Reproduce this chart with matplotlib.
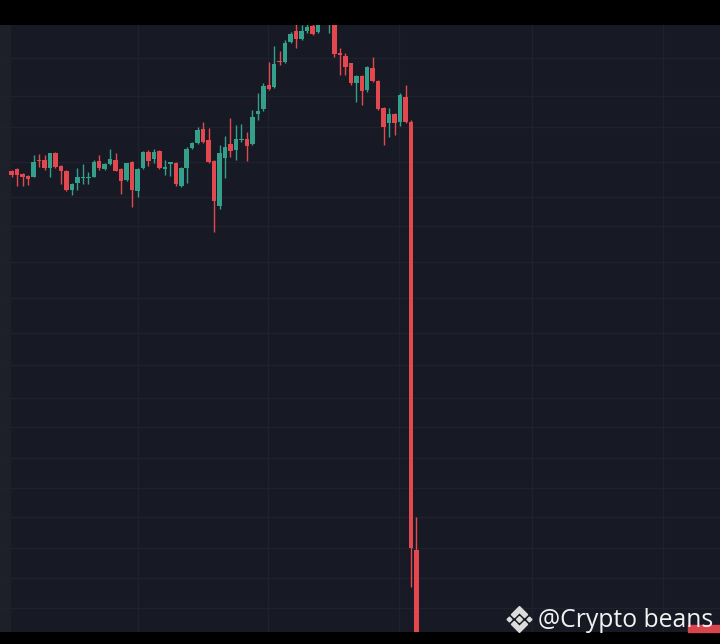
import numpy as np
import matplotlib.pyplot as plt
from matplotlib.patches import Polygon, Rectangle

# OHLC (arbitrary price units, bottom of chart = 0)
opens = [461, 463, 458, 456, 455, 472, 472, 464, 479, 466, 461, 442, 449, 454, 454,
         455, 471, 463, 468, 472, 463, 452, 470, 441, 464, 480, 473, 481, 463, 468.5,
         469, 446, 464, 484, 489, 503, 492, 471, 426, 474, 488, 482, 492, 493, 488,
         518, 523, 547, 545, 571, 570, 590, 601, 593, 601, 606, 600, 612, 620, 620,
         579, 576, 569, 549, 556, 542, 564, 551, 524, 509, 518, 510, 535, 510, 82]
highs = [462, 464, 459, 457, 477, 478, 477, 479, 480, 467, 462, 449, 464, 468, 460,
         472, 477, 469, 483, 479, 464, 469, 471, 464, 481, 482, 483, 482, 472, 470,
         470, 465, 485, 490, 505, 510, 504, 472, 487, 496, 514, 507, 508, 500, 522,
         539, 549, 570, 586, 581, 592, 600, 612, 607, 608, 610, 615, 624, 628, 624,
         584, 579, 569, 557, 557, 566, 575, 552, 525, 524, 519, 539, 547, 512, 115]
lows = [455, 446, 446, 447, 455, 465, 462, 455, 464, 448, 441, 437, 442, 448, 448,
        455, 462, 462, 467, 461, 438, 451, 425, 435, 463, 466, 469, 463, 457, 456,
        446, 445, 449, 483, 488, 489, 469, 400, 423, 454, 475, 472, 490, 471, 487,
        512, 521, 542, 544, 567, 569, 589, 584, 592, 599, 597, 599, 609, 599, 575,
        557, 557, 547, 530, 527, 540, 550, 522, 487, 495, 497, 506, 509, 45, -60]
closes = [457, 457, 455, 453, 470, 471, 464, 479, 465, 461, 442, 448, 455, 455, 455.5,
          470, 464, 468, 473, 461, 451, 469, 442, 463, 480, 471, 480, 464, 465, 469.5,
          448, 464, 483, 489, 502, 490, 470, 431, 479, 485, 481, 493, 493, 486, 515,
          521, 546, 543, 568, 570, 589, 598, 593, 601, 605, 598, 612, 620, 623, 578,
          577, 565, 549, 556, 541, 565, 551, 523, 505, 518, 509, 537, 510, 84, -40]

# grid rows as seen in the picture (pixel rows from top)
grid_rows = [58, 96, 127, 162, 197, 226, 262, 298, 333, 365, 398, 427, 458, 488, 517, 548, 578, 608]
grid_cols = [23.1, 46.9, 70.8, 95.1, 119.1]

bg = '#171a24'
green = '#34a08c'
red = '#e4484f'

fig = plt.figure(figsize=(7.2, 6.44), dpi=100, facecolor='black')
ax = fig.add_axes([0, 12 / 644, 1, 607 / 644])
ax.set_facecolor(bg)
ax.set_xlim(-2.14, 129.5)
ax.set_ylim(0, 607)
ax.set_xticks([])
ax.set_yticks([])
for s in ax.spines.values():
    s.set_visible(False)

# lighter strip on the left edge
ax.axvspan(-2.14, -0.3, color='#1d2029', zorder=0)

for r in grid_rows:
    ax.axhline(632 - r, color='#1e222c', lw=1, zorder=1)
for c in grid_cols:
    ax.axvline(c, color='#1e222c', lw=1, zorder=1)

o = np.array(opens, float)
h = np.array(highs, float)
l = np.array(lows, float)
c = np.array(closes, float)
x = np.arange(len(o))
cols = np.where(c >= o, green, red)

ax.vlines(x, l, h, colors=cols, lw=1, zorder=2)
body_lo = np.minimum(o, c)
body_h = np.maximum(np.abs(c - o), 1.4)
ax.bar(x, body_h, bottom=body_lo, width=0.82, color=cols, lw=0, zorder=3)

# price tag at bottom right
fig.patches.append(Rectangle((688 / 720, 12 / 644), 32 / 720, 7 / 644,
                             transform=fig.transFigure, color='#d9454c', zorder=5))

# watermark
fig.text(538 / 720, (644 - 627) / 644, '@Crypto beans', color='#f2f2f2',
         fontsize=17.8, family=['Open Sans', 'DejaVu Sans'], va='baseline', ha='left', zorder=10)

lax = fig.add_axes([506 / 720, 11 / 644, 27 / 720, 27 / 644])
lax.set_xlim(0, 1)
lax.set_ylim(0, 1)
lax.axis('off')
lc = '#dcdcdc'
def diamond(cx, cy, r):
    return Polygon([(cx, cy + r), (cx + r, cy), (cx, cy - r), (cx - r, cy)], color=lc)
lax.add_patch(diamond(0.5, 0.5, 0.11))
lax.add_patch(diamond(0.13, 0.5, 0.09))
lax.add_patch(diamond(0.87, 0.5, 0.09))
lax.add_patch(Polygon([(0.5, 0.98), (0.8, 0.68), (0.69, 0.57), (0.5, 0.76), (0.31, 0.57), (0.2, 0.68)], color=lc))
lax.add_patch(Polygon([(0.5, 0.02), (0.8, 0.32), (0.69, 0.43), (0.5, 0.24), (0.31, 0.43), (0.2, 0.32)], color=lc))

fig.savefig('out.png', dpi=100, facecolor='black')
